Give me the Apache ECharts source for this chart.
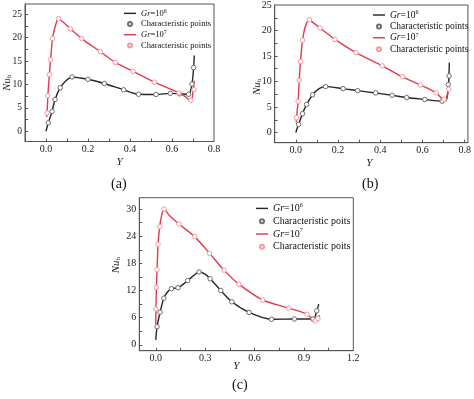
<!DOCTYPE html>
<html>
<head>
<meta charset="utf-8">
<script src="https://cdn.jsdelivr.net/npm/echarts@6/dist/echarts.min.js"></script>
<style>
  html, body { margin: 0; padding: 0; background: #fff; }
  #chart { width: 474px; height: 399px; }
</style>
</head>
<body>
<div id="chart"></div>
<script>
// ---- data ----
// (a)
const lineA6 = [[0,0],[0.011,1.8],[0.029,4.25],[0.043,6.8],[0.068,9.3],[0.095,10.8],[0.124,11.6],[0.16,11.4],[0.2,11.1],[0.278,10.2],[0.37,8.85],[0.441,7.9],[0.524,7.85],[0.592,8.1],[0.636,8.0],[0.679,7.9],[0.695,10.1],[0.703,13.6],[0.706,16.2]]
const ptsA6 = [[0.011,1.8],[0.029,4.25],[0.043,6.8],[0.068,9.3],[0.124,11.6],[0.2,11.1],[0.278,10.2],[0.37,8.85],[0.441,7.9],[0.524,7.85],[0.592,8.1],[0.636,8.0],[0.679,7.9],[0.695,10.1],[0.703,13.6]]
const lineA7 = [[0.003,3],[0.005,3.9],[0.009,7.6],[0.016,12.1],[0.022,15.3],[0.031,19.8],[0.045,22.6],[0.06,24.1],[0.08,23.4],[0.116,21.9],[0.17,19.8],[0.259,17.0],[0.33,14.7],[0.414,12.8],[0.516,10.5],[0.633,8.2],[0.66,7.5],[0.69,6.4],[0.7,8.5],[0.706,10.8]]
const ptsA7 = [[0.005,3.9],[0.009,7.6],[0.016,12.1],[0.022,15.3],[0.031,19.8],[0.06,24.1],[0.116,21.9],[0.17,19.8],[0.259,17.0],[0.33,14.7],[0.414,12.8],[0.516,10.5],[0.633,8.2],[0.69,6.6],[0.705,8.9]]
// (b)
const lineB6 = [[0,0],[0.013,1.6],[0.032,3.7],[0.051,5.5],[0.08,7.4],[0.11,8.6],[0.141,9.0],[0.224,8.6],[0.293,8.2],[0.378,7.75],[0.456,7.3],[0.525,6.85],[0.611,6.47],[0.693,6.14],[0.712,6.3],[0.72,8],[0.724,10],[0.727,13.7]]
const ptsB6 = [[0.013,1.6],[0.032,3.7],[0.051,5.5],[0.08,7.4],[0.141,9.0],[0.224,8.6],[0.293,8.2],[0.378,7.75],[0.456,7.3],[0.525,6.85],[0.611,6.47],[0.693,6.14],[0.722,9.4],[0.726,11.1]]
const lineB7 = [[0.002,2],[0.003,2.9],[0.011,6.1],[0.016,10.2],[0.022,13.9],[0.032,18.1],[0.045,20.8],[0.064,22.1],[0.08,21.6],[0.115,20.5],[0.186,18.25],[0.285,15.65],[0.409,13.07],[0.505,10.93],[0.59,9.3],[0.665,7.77],[0.702,6.4],[0.713,6.8],[0.72,7.8],[0.726,9.2]]
const ptsB7 = [[0.003,2.9],[0.011,6.1],[0.016,10.2],[0.022,13.9],[0.032,18.1],[0.064,22.1],[0.115,20.5],[0.186,18.25],[0.285,15.65],[0.409,13.07],[0.505,10.93],[0.59,9.3],[0.665,7.77],[0.702,6.5],[0.724,8.5]]
// (c)
const lineC6 = [[0,1.1],[0.008,4.0],[0.026,7.2],[0.049,10.3],[0.07,11.6],[0.095,12.4],[0.135,12.6],[0.194,14.2],[0.24,15.6],[0.263,16.1],[0.3,15.6],[0.33,14.6],[0.395,12.0],[0.462,9.5],[0.567,7.15],[0.703,5.64],[0.842,5.7],[0.93,5.7],[0.958,5.6],[0.978,7.5],[0.99,9.0]]
const ptsC6 = [[0.008,4.0],[0.026,7.2],[0.049,10.3],[0.095,12.4],[0.135,12.6],[0.194,14.2],[0.263,16.1],[0.33,14.6],[0.395,12.0],[0.462,9.5],[0.567,7.15],[0.703,5.64],[0.842,5.7],[0.955,5.7],[0.978,7.5]]
const lineC7 = [[0,4.5],[0.001,7.9],[0.004,12.7],[0.008,16.6],[0.014,22.2],[0.024,26.1],[0.035,28.5],[0.05,30.0],[0.08,28.7],[0.141,26.7],[0.236,23.9],[0.327,20.2],[0.414,16.5],[0.505,13.4],[0.65,9.9],[0.808,8.1],[0.919,6.75],[0.97,5.3],[0.988,6.1],[0.995,6.6]]
const ptsC7 = [[0.001,7.9],[0.004,12.7],[0.008,16.6],[0.014,22.2],[0.024,26.1],[0.05,30.0],[0.141,26.7],[0.236,23.9],[0.327,20.2],[0.414,16.5],[0.505,13.4],[0.65,9.9],[0.808,8.1],[0.919,6.75],[0.97,5.3],[0.985,5.8]]

// tick values
const xTicksAB = [0, 0.2, 0.4, 0.6, 0.8]
const yTicksAB = [0, 5, 10, 15, 20, 25]
const xTicksC = [0, 0.3, 0.6, 0.9, 1.2]
const yTicksC = [0, 6, 12, 18, 24, 30]

const legendTexts = {
  a6: '{i|Gr}=10{sup|6}', pa6: 'Characteristic points', a7: '{i|Gr}=10{sup|7}', pa7: 'Characteristic points',
  b6: '{i|Gr}=10{sup|6}', pb6: 'Characteristic points', b7: '{i|Gr}=10{sup|7}', pb7: 'Characteristic points',
  c6: '{i|Gr}=10{sup|6}', pc6: 'Characteristic poits', c7: '{i|Gr}=10{sup|7}', pc7: 'Characteristic poits'
}

const serif = '"Liberation Serif", "Times New Roman", serif'
const frame = '#555'
const black = '#262626'
const red = '#e23a4e'
const grey = '#6e6e6e'
const pink = '#f29a9f'

function halfSteps(ticks) {
  let out = []
  let step = ticks[1] - ticks[0]
  for (let i = 0; i < ticks.length; i++) {
    out.push(ticks[i])
    out.push(+(ticks[i] + step / 2).toFixed(4))
  }
  out.unshift(+(ticks[0] - step / 2).toFixed(4))
  return out
}

function xAxis(gi, min, max, ticks, nameGap, fs, shift) {
  return {
    type: 'value', gridIndex: gi, min: min, max: max,
    name: 'Y', nameLocation: 'middle', nameGap: nameGap, nameMoveOverlap: false,
    nameTextStyle: { fontFamily: serif, fontStyle: 'italic', fontSize: fs + 1, color: '#222',
      padding: shift > 0 ? [0, 0, 0, shift] : [0, -shift, 0, 0] },
    axisLine: { show: true, onZero: false, lineStyle: { color: frame, width: 1 } },
    axisTick: { show: true, inside: true, length: 3, customValues: halfSteps(ticks).filter(v => v > min && v < max), lineStyle: { color: frame } },
    axisLabel: { customValues: ticks, formatter: v => v.toFixed(1), margin: 3, fontFamily: serif, fontSize: fs, color: '#222' },
    splitLine: { show: false }
  }
}

// shift > 0 moves the rotated name down
function yAxis(gi, min, max, ticks, nameGap, fs, shift) {
  return {
    type: 'value', gridIndex: gi, min: min, max: max,
    name: '{i|Nu}{s|h}', nameLocation: 'middle', nameGap: nameGap, nameRotate: 90, nameMoveOverlap: false,
    nameTextStyle: {
      fontFamily: serif, fontSize: fs + 1, color: '#222',
      padding: shift > 0 ? [0, shift, 0, 0] : [0, 0, 0, -shift],
      rich: { i: { fontStyle: 'italic', fontFamily: serif, fontSize: fs + 1 }, s: { fontFamily: serif, fontSize: 7, verticalAlign: 'bottom' } }
    },
    axisLine: { show: true, onZero: false, lineStyle: { color: frame, width: 1 } },
    axisTick: { show: true, inside: true, length: 3, customValues: halfSteps(ticks).filter(v => v > min && v < max), lineStyle: { color: frame } },
    axisLabel: { customValues: ticks, margin: 3, fontFamily: serif, fontSize: fs, color: '#222' },
    splitLine: { show: false }
  }
}

// thin bar used as the legend sample for the curves
const lineIcon = 'path://M0,0H10V1.2H0Z'

function legend(names, left, top, fs, rowH) {
  return {
    orient: 'vertical', left: left, top: top,
    data: names.map((n, i) => i % 2 === 0 ? { name: n, icon: lineIcon } : n),
    itemWidth: 12, itemHeight: 5, itemGap: 0, padding: 0, symbolKeepAspect: true,
    formatter: n => legendTexts[n],
    textStyle: {
      fontFamily: serif, fontSize: fs, color: '#111', lineHeight: rowH,
      rich: {
        i: { fontStyle: 'italic', fontFamily: serif, fontSize: fs, lineHeight: rowH },
        sup: { fontFamily: serif, fontSize: 6, verticalAlign: 'top', lineHeight: rowH }
      }
    }
  }
}

function curve(name, gi, data, color) {
  return {
    name: name, type: 'line', xAxisIndex: gi, yAxisIndex: gi, data: data,
    symbol: 'none', smooth: 0.3, lineStyle: { color: color, width: 1.4 }, itemStyle: { color: color }, z: 2
  }
}

function points(name, gi, data, color) {
  return {
    name: name, type: 'line', xAxisIndex: gi, yAxisIndex: gi, data: data,
    symbol: 'circle', symbolSize: 4.5, showSymbol: true,
    lineStyle: { opacity: 0 },
    itemStyle: { color: '#fff', borderColor: color, borderWidth: 1 }, z: 3
  }
}

let ch = echarts.init(document.getElementById('chart'), null, { renderer: 'canvas' })

let option = {
  animation: false,
  backgroundColor: '#fff',
  grid: [
    { left: 25, top: 4, width: 189, height: 137.5, show: true, borderColor: frame, borderWidth: 1 },
    { left: 274.7, top: 4, width: 194.3, height: 138.7, show: true, borderColor: frame, borderWidth: 1 },
    { left: 139.3, top: 197.7, width: 214, height: 153, show: true, borderColor: frame, borderWidth: 1 }
  ],
  xAxis: [
    xAxis(0, -0.1, 0.8, xTicksAB, 15, 10, 0),
    xAxis(1, -0.1, 0.815, xTicksAB, 15, 10, -4),
    xAxis(2, -0.1, 1.2, xTicksC, 10, 10, -20)
  ],
  yAxis: [
    yAxis(0, -2.2, 27.2, yTicksAB, 12, 9.5, 20),
    yAxis(1, -2, 25, yTicksAB, 12, 10, 26),
    yAxis(2, -1.3, 32.5, yTicksC, 18, 10, -18)
  ],
  legend: [
    legend(['a6', 'pa6', 'a7', 'pa7'], 123, 8, 8.5, 10.7),
    legend(['b6', 'pb6', 'b7', 'pb7'], 372, 9.3, 9.5, 11.4),
    legend(['c6', 'pc6', 'c7', 'pc7'], 255, 202, 10, 12.8)
  ],
  graphic: [
    { type: 'text', left: 111, top: 177, style: { text: '(a)', font: '14px ' + serif, fill: '#111' } },
    { type: 'text', left: 362, top: 177, style: { text: '(b)', font: '14px ' + serif, fill: '#111' } },
    { type: 'text', left: 232, top: 378, style: { text: '(c)', font: '14px ' + serif, fill: '#111' } }
  ],
  series: [
    curve('a6', 0, lineA6, black), points('pa6', 0, ptsA6, grey),
    curve('a7', 0, lineA7, red), points('pa7', 0, ptsA7, pink),
    curve('b6', 1, lineB6, black), points('pb6', 1, ptsB6, grey),
    curve('b7', 1, lineB7, red), points('pb7', 1, ptsB7, pink),
    curve('c6', 2, lineC6, black), points('pc6', 2, ptsC6, grey),
    curve('c7', 2, lineC7, red), points('pc7', 2, ptsC7, pink)
  ]
}
ch.setOption(option)
</script>
</body>
</html>
